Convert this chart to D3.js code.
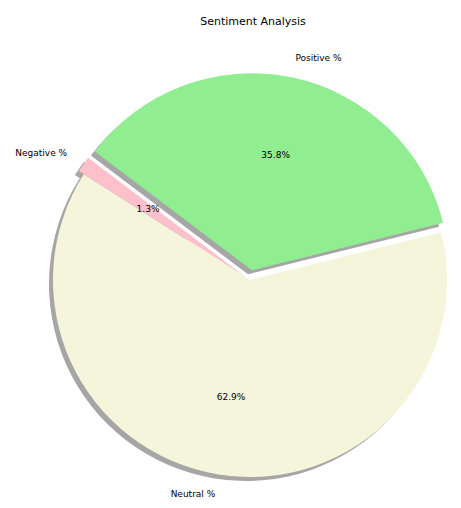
<!DOCTYPE html>
<html><head><meta charset="utf-8">
<script src="https://cdn.jsdelivr.net/npm/d3@7"></script>
<style>body{margin:0;background:#fff}</style>
</head><body>
<svg id="canvas" width="461" height="508"></svg>
<script>
let labels = ["Positive %", "Negative %", "Neutral %"]
let values = [35.8, 1.3, 62.9]
let colors = ["lightgreen", "pink", "beige"]
let explode = [0.05, 0.03, 0]

let svg = d3.select("#canvas")
let cx = 250, cy = 280, r = 197
let start = Math.PI / 2 - 14 * Math.PI / 180

svg.append("text").attr("x", 253).attr("y", 25).attr("text-anchor", "middle")
    .style("font-family", "DejaVu Sans").style("font-size", "11px").text("Sentiment Analysis")

let pie = d3.pie().sort(null).value(d => d).startAngle(start).endAngle(start - 2 * Math.PI)
let slices = pie(values)
let arc = d3.arc().innerRadius(0).outerRadius(r)

let off = s => {
    let m = (s.startAngle + s.endAngle) / 2
    let e = explode[s.index] * r
    return [e * Math.sin(m), -e * Math.cos(m)]
}

// shadows
svg.selectAll("path.shadow").data(slices).enter().append("path")
    .attr("d", arc).attr("fill", "#000").attr("opacity", 0.35)
    .attr("transform", s => { let o = off(s); return `translate(${cx + o[0] - 4},${cy + o[1] + 4})` })

svg.selectAll("path.slice").data(slices).enter().append("path")
    .attr("d", arc).attr("fill", (s, i) => colors[i])
    .attr("transform", s => { let o = off(s); return `translate(${cx + o[0]},${cy + o[1]})` })

let lab = d3.arc().innerRadius(r * 1.1).outerRadius(r * 1.1)
let pct = d3.arc().innerRadius(r * 0.6).outerRadius(r * 0.6)

svg.selectAll("text.lab").data(slices).enter().append("text")
    .attr("transform", s => { let c = lab.centroid(s), o = off(s); return `translate(${cx + c[0] + o[0]},${cy + c[1] + o[1] + 3})` })
    .attr("text-anchor", s => { let c = lab.centroid(s); return c[0] > 0 ? "start" : "end" })
    .style("font-family", "DejaVu Sans").style("font-size", "9px")
    .text((s, i) => labels[i])

svg.selectAll("text.pct").data(slices).enter().append("text")
    .attr("transform", s => { let c = pct.centroid(s), o = off(s); return `translate(${cx + c[0] + o[0]},${cy + c[1] + o[1] + 3})` })
    .attr("text-anchor", "middle")
    .style("font-family", "DejaVu Sans").style("font-size", "9px")
    .text((s, i) => values[i].toFixed(1) + "%")
</script>
</body></html>
